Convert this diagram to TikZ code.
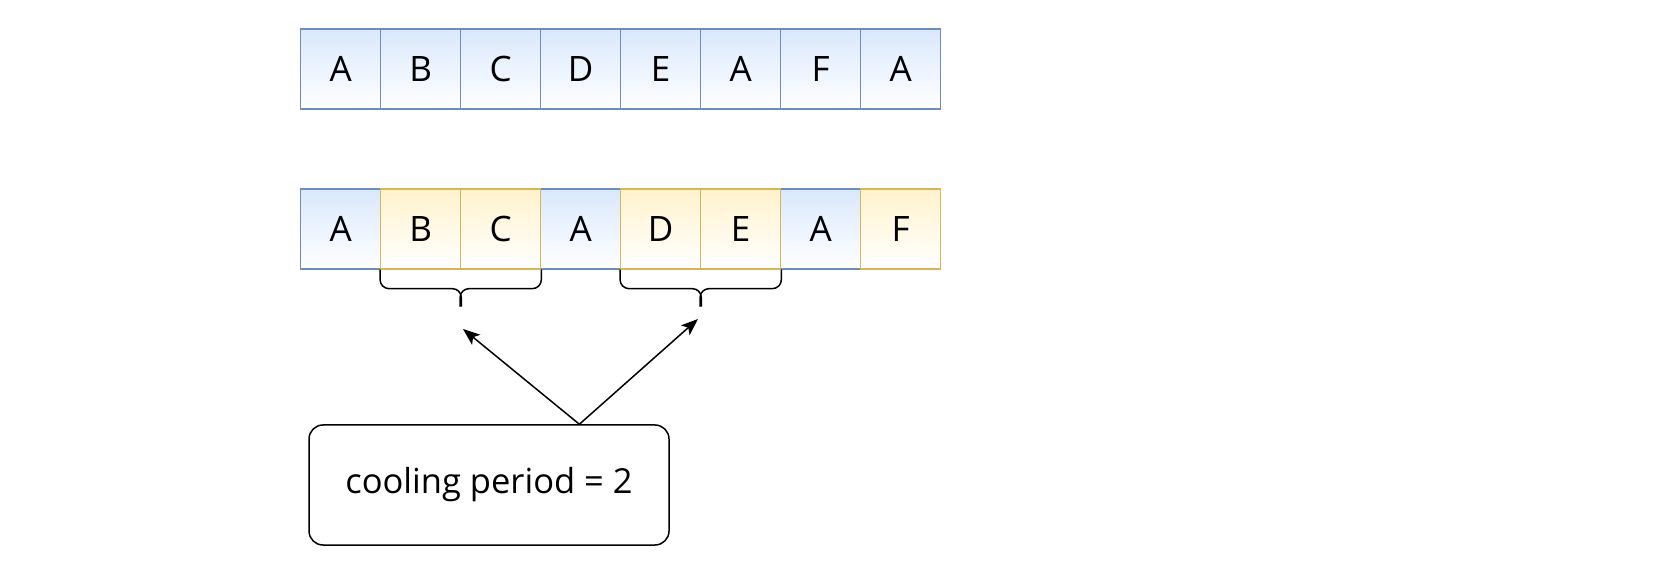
\documentclass[tikz,border=0pt]{standalone}
\usepackage{fontspec}
\setmainfont{Open Sans}
\usetikzlibrary{positioning,calc,arrows.meta}
\definecolor{blueFill}{HTML}{DAE8FC}
\definecolor{blueLine}{HTML}{6C8EBF}
\definecolor{yellowFill}{HTML}{FFF2CC}
\definecolor{yellowLine}{HTML}{D6B656}
\tikzset{
    task/.style={
           rectangle,
           draw=blueLine, line width=1.3pt,
           top color=blueFill, bottom color=white,
           minimum size=80pt,
           inner sep=0pt,
           font=\fontsize{35}{40}\selectfont
           },
    idle/.style={
           task,
           draw=yellowLine,
           top color=yellowFill
           },
    note/.style={
           rectangle,
           rounded corners=14pt,
           draw=black, line width=1.5pt,
           minimum width=360pt,
           minimum height=120pt,
           font=\fontsize{34.5}{40}\selectfont
           },
    bracket/.style={
           draw=black, line width=1.5pt,
           rounded corners=9pt
           },
}

\begin{document}
\begin{tikzpicture}[x=1pt, y=1pt, >={Stealth[length=17pt,width=13pt,inset=4pt]}, node distance=80pt, on grid]
   \useasboundingbox (0,0) rectangle (1660,576);

   % given task order
   \node[task] (t1) at (340.7,507) {A};
   \node[task] (t2) [right=of t1] {B};
   \node[task] (t3) [right=of t2] {C};
   \node[task] (t4) [right=of t3] {D};
   \node[task] (t5) [right=of t4] {E};
   \node[task] (t6) [right=of t5] {A};
   \node[task] (t7) [right=of t6] {F};
   \node[task] (t8) [right=of t7] {A};

   % scheduled order, blue first so yellow borders lie on top
   \node[task] (b1) [below=160pt of t1] {A};
   \node[task] (b4) [right=240pt of b1] {A};
   \node[task] (b7) [right=240pt of b4] {A};
   \node[idle] (b2) [right=of b1] {B};
   \node[idle] (b3) [right=of b2] {C};
   \node[idle] (b5) [right=of b4] {D};
   \node[idle] (b6) [right=of b5] {E};
   \node[idle] (b8) [right=of b7] {F};

   % braces
   \draw[bracket] (b2.south west) -- ++(0,-19) -- ($(b2.south east)+(0,-19)$) -- ++(0,-18);
   \draw[bracket] (b3.south east) -- ++(0,-19) -- ($(b3.south west)+(0,-19)$) -- ++(0,-18);
   \draw[bracket] (b5.south west) -- ++(0,-19) -- ($(b5.south east)+(0,-19)$) -- ++(0,-18);
   \draw[bracket] (b6.south east) -- ++(0,-19) -- ($(b6.south west)+(0,-19)$) -- ++(0,-18);

   \node[note] (cool) at (489,91) {cooling period = 2};

   \coordinate (src) at ($(cool.north west)!0.75!(cool.north east)$);
   \coordinate (tip1) at (463,247);
   \coordinate (tip2) at (698,257);

   \draw[->, line width=1.5pt] (src) -- (tip1);
   \draw[->, line width=1.5pt] (src) -- (tip2);
\end{tikzpicture}
\end{document}
